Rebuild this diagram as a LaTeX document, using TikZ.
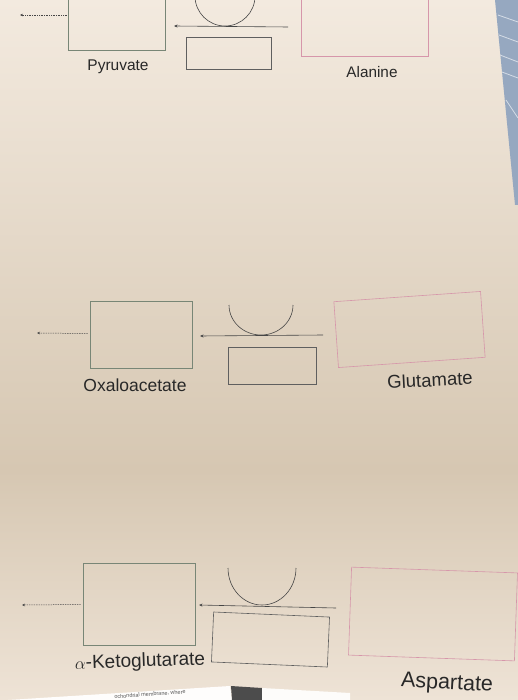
\documentclass[tikz,border=0pt]{standalone}
\usepackage{fontspec}
\setmainfont{Liberation Sans}
\usetikzlibrary{arrows.meta}
\definecolor{papertop}{RGB}{243,234,223}
\definecolor{paperband}{RGB}{214,199,178}
\definecolor{paperbot}{RGB}{238,227,214}
\definecolor{boxgreen}{RGB}{120,134,118}
\definecolor{boxgray}{RGB}{95,95,95}
\definecolor{boxpink}{RGB}{214,150,170}
\definecolor{inkc}{RGB}{40,40,40}
\definecolor{linec}{RGB}{70,70,70}
\definecolor{keyb}{RGB}{150,168,192}
\tikzset{
  leftbox/.style={draw=boxgreen, line width=0.6pt, inner sep=0pt},
  smallbox/.style={draw=boxgray, line width=0.6pt, inner sep=0pt},
  pinkbox/.style={draw=boxpink, line width=0.6pt, inner sep=0pt},
  lbl/.style={text=inkc, inner sep=0pt},
  dasharrow/.style={draw=linec, line width=0.5pt, dash pattern=on 1.4pt off 1pt, -{Stealth[length=3pt,width=2.6pt]}},
  reactarrow/.style={draw=linec, line width=0.6pt, -{Stealth[length=3.5pt,width=3pt]}},
  coarc/.style={draw=linec, line width=0.6pt},
}
\begin{document}
\begin{tikzpicture}[x=1pt,y=-1pt]
\useasboundingbox (0,0) rectangle (518,700);
\clip (0,0) rectangle (518,700);
% paper background
\fill[top color=papertop, bottom color=paperband] (0,0) rectangle (518,470);
\fill[top color=paperband, bottom color=paperbot] (0,470) rectangle (518,700);
% keyboard at top right
\fill[keyb] (495,0) -- (518,0) -- (518,205) -- (515,205) -- cycle;
\draw[white!60!keyb, line width=0.8pt] (498,15) -- (518,22) (499,35) -- (518,42) (500,55) -- (518,62) (502,72) -- (518,78) (506,100) -- (518,118);
% bottom page edge
\fill[white!92!papertop] (8,700) -- (230,686) -- (232,700) -- cycle;
\fill[black!70] (231,686) -- (262,688) -- (262,700) -- (232,700) -- cycle;
\fill[white!85!papertop] (262,688) -- (350,693) -- (350,700) -- (262,700) -- cycle;
\node[lbl, font=\fontsize{5.5}{6}\selectfont\rmfamily, rotate=4, text=black!65] (pagetxt) at (150,694.5) {ochondrial membrane, where};

% ---------- top row ----------
\node[leftbox, minimum width=97pt, minimum height=70pt] (pyr) at (116.5,15) {};
\node[lbl, font=\fontsize{15.5}{18}\selectfont] (pyrlbl) at (118,67) {Pyruvate};
\coordinate (d1e) at (20,15);
\draw[dasharrow] ([xshift=-1pt]pyr.west) -- (d1e);
\node[coarc, circle, minimum size=60pt, inner sep=0pt] (co1) at (225,-4) {};
\coordinate (r1) at (288,27);
\coordinate (l1) at (174,26);
\draw[reactarrow] (r1) -- (l1);
\node[smallbox, minimum width=85pt, minimum height=32pt] (sb1) at (228.5,53) {};
\node[pinkbox, minimum width=127pt, minimum height=76pt] (ala) at (364.5,18) {};
\node[lbl, font=\fontsize{15.3}{18}\selectfont] (alalbl) at (372,72) {Alanine};

% ---------- middle row ----------
\node[leftbox, minimum width=102pt, minimum height=67pt] (oxa) at (141,334.5) {};
\node[lbl, font=\fontsize{17.5}{20}\selectfont] (oxalbl) at (135,385) {Oxaloacetate};
\coordinate (d2e) at (37,333);
\draw[dasharrow] ([xshift=-2pt,yshift=1pt]oxa.west) -- (d2e);
\coordinate (a2s) at (229,305);
\draw[coarc] (a2s) arc[start angle=180, end angle=0, x radius=32, y radius=30];
\coordinate (r2) at (323,335);
\coordinate (l2) at (200,336);
\draw[reactarrow] (r2) -- (l2);
\node[smallbox, minimum width=88pt, minimum height=37pt] (sb2) at (272,365.5) {};
\node[pinkbox, minimum width=147pt, minimum height=66pt, rotate=4] (glu) at (409.5,329.5) {};
\node[lbl, font=\fontsize{18.5}{21}\selectfont, rotate=3] (glulbl) at (430,380) {Glutamate};

% ---------- bottom row ----------
\node[leftbox, minimum width=112pt, minimum height=82pt] (akg) at (139,604.5) {};
\node[lbl, font=\fontsize{19}{22}\selectfont, rotate=2] (akglbl) at (140,662) {$\alpha$-Ketoglutarate};
\coordinate (d3e) at (22,605);
\draw[dasharrow] ([xshift=-2pt]akg.west) -- (d3e);
\coordinate (a3s) at (228,568);
\draw[coarc] (a3s) arc[start angle=180, end angle=0, x radius=34, y radius=37];
\coordinate (r3) at (336,608);
\coordinate (l3) at (199,605);
\draw[reactarrow] (r3) -- (l3);
\node[smallbox, minimum width=116pt, minimum height=50pt, rotate=-2.5] (sb3) at (270.5,639.5) {};
\node[pinkbox, minimum width=166pt, minimum height=88pt, rotate=-2] (asp) at (433,614) {};
\node[lbl, font=\fontsize{21.5}{24}\selectfont, rotate=-3] (asplbl) at (447,684) {Aspartate};
\end{tikzpicture}
\end{document}
